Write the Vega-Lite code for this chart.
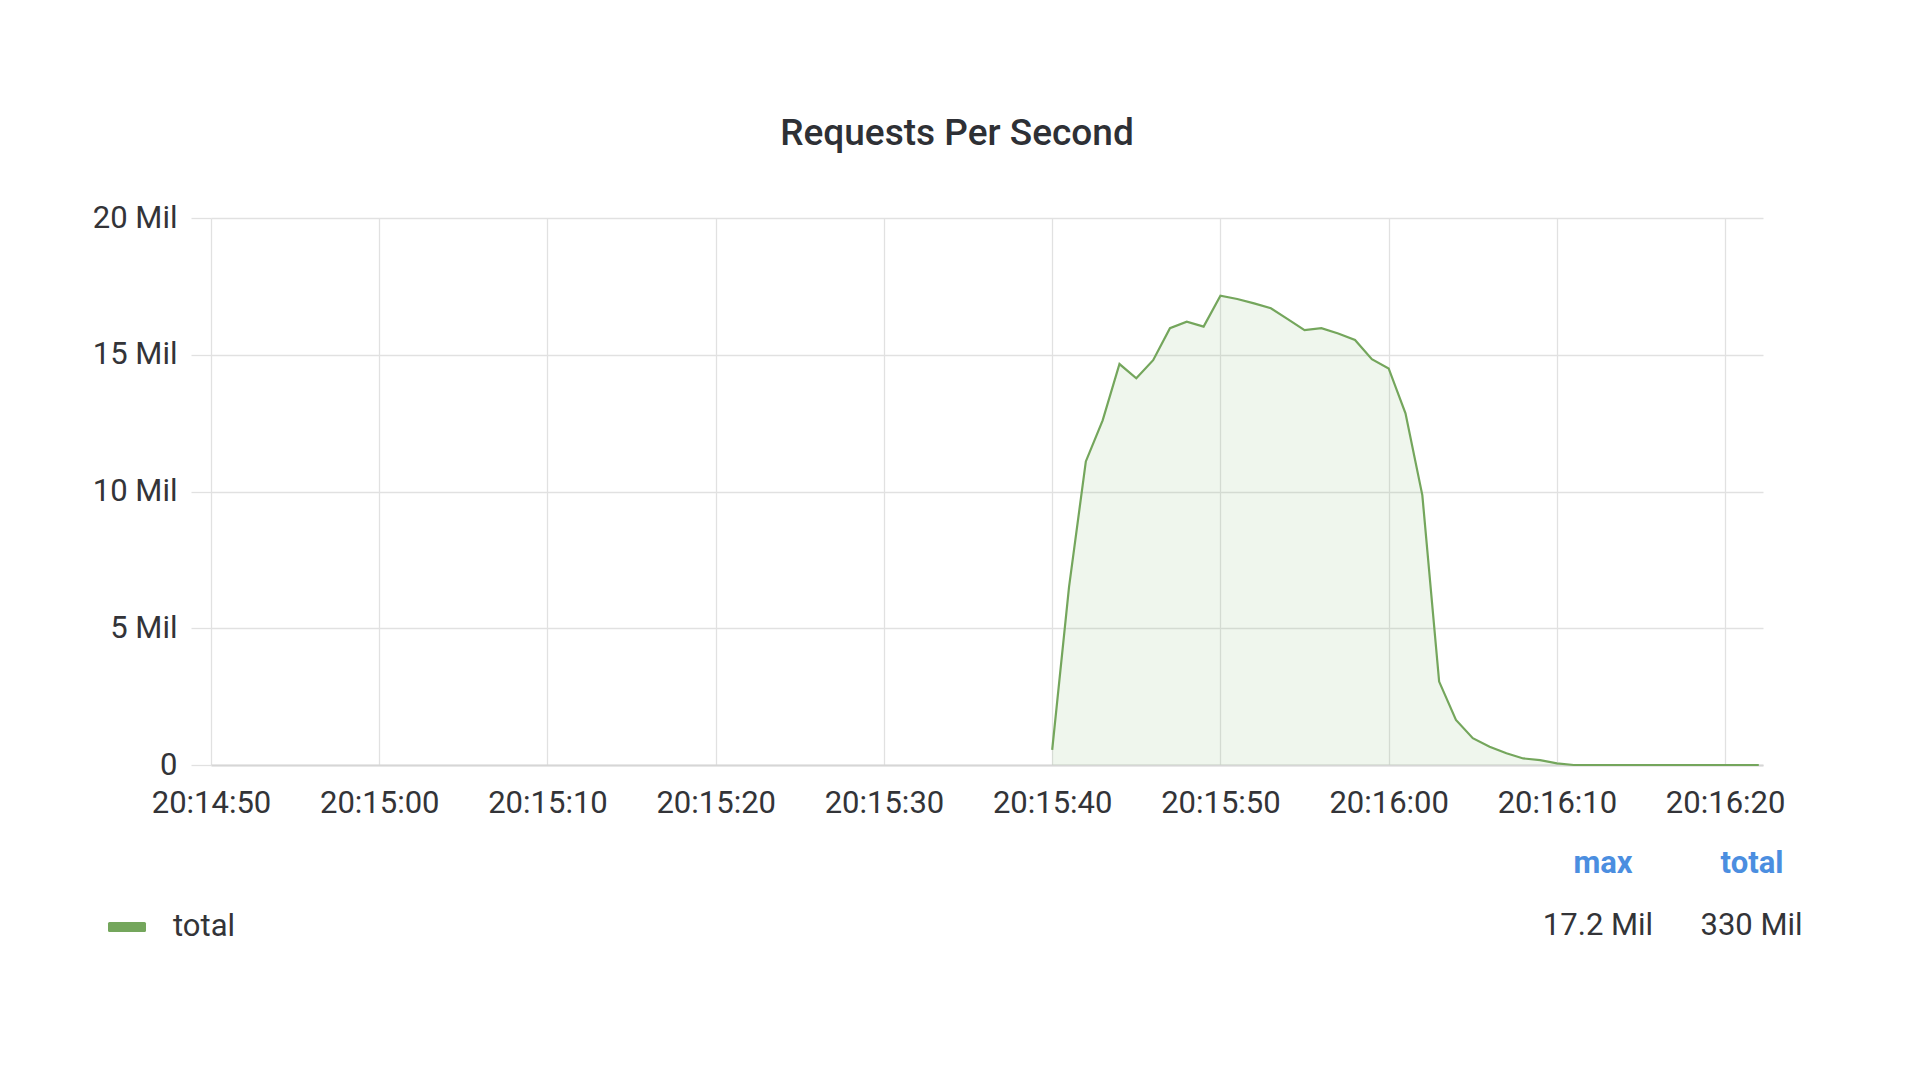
{
  "$schema": "https://vega.github.io/schema/vega-lite/v6.json",
  "width": 1552,
  "height": 547,
  "autosize": {"type": "none"},
  "padding": {"left": 211, "top": 218, "right": 157, "bottom": 315},
  "background": "white",
  "title": {
    "text": "Requests Per Second",
    "anchor": "middle",
    "frame": "group",
    "dx": -30,
    "font": "Roboto",
    "fontSize": 37,
    "fontWeight": 500,
    "color": "#2e3035",
    "baseline": "alphabetic",
    "offset": 20
  },
  "config": {"view": {"stroke": null}, "font": "Roboto"},
  "datasets": {
    "series": [
      {"time": "2023-01-01T20:15:40", "value": 550000, "series": "total"},
      {"time": "2023-01-01T20:15:41", "value": 6500000, "series": "total"},
      {"time": "2023-01-01T20:15:42", "value": 11100000, "series": "total"},
      {"time": "2023-01-01T20:15:43", "value": 12600000, "series": "total"},
      {"time": "2023-01-01T20:15:44", "value": 14660000, "series": "total"},
      {"time": "2023-01-01T20:15:45", "value": 14140000, "series": "total"},
      {"time": "2023-01-01T20:15:46", "value": 14800000, "series": "total"},
      {"time": "2023-01-01T20:15:47", "value": 15970000, "series": "total"},
      {"time": "2023-01-01T20:15:48", "value": 16210000, "series": "total"},
      {"time": "2023-01-01T20:15:49", "value": 16030000, "series": "total"},
      {"time": "2023-01-01T20:15:50", "value": 17160000, "series": "total"},
      {"time": "2023-01-01T20:15:51", "value": 17040000, "series": "total"},
      {"time": "2023-01-01T20:15:52", "value": 16880000, "series": "total"},
      {"time": "2023-01-01T20:15:53", "value": 16700000, "series": "total"},
      {"time": "2023-01-01T20:15:54", "value": 16300000, "series": "total"},
      {"time": "2023-01-01T20:15:55", "value": 15900000, "series": "total"},
      {"time": "2023-01-01T20:15:56", "value": 15970000, "series": "total"},
      {"time": "2023-01-01T20:15:57", "value": 15780000, "series": "total"},
      {"time": "2023-01-01T20:15:58", "value": 15540000, "series": "total"},
      {"time": "2023-01-01T20:15:59", "value": 14840000, "series": "total"},
      {"time": "2023-01-01T20:16:00", "value": 14500000, "series": "total"},
      {"time": "2023-01-01T20:16:01", "value": 12860000, "series": "total"},
      {"time": "2023-01-01T20:16:02", "value": 9870000, "series": "total"},
      {"time": "2023-01-01T20:16:03", "value": 3050000, "series": "total"},
      {"time": "2023-01-01T20:16:04", "value": 1650000, "series": "total"},
      {"time": "2023-01-01T20:16:05", "value": 980000, "series": "total"},
      {"time": "2023-01-01T20:16:06", "value": 670000, "series": "total"},
      {"time": "2023-01-01T20:16:07", "value": 430000, "series": "total"},
      {"time": "2023-01-01T20:16:08", "value": 240000, "series": "total"},
      {"time": "2023-01-01T20:16:09", "value": 180000, "series": "total"},
      {"time": "2023-01-01T20:16:10", "value": 60000, "series": "total"},
      {"time": "2023-01-01T20:16:11", "value": 0, "series": "total"},
      {"time": "2023-01-01T20:16:12", "value": 0, "series": "total"},
      {"time": "2023-01-01T20:16:13", "value": 0, "series": "total"},
      {"time": "2023-01-01T20:16:14", "value": 0, "series": "total"},
      {"time": "2023-01-01T20:16:15", "value": 0, "series": "total"},
      {"time": "2023-01-01T20:16:16", "value": 0, "series": "total"},
      {"time": "2023-01-01T20:16:17", "value": 0, "series": "total"},
      {"time": "2023-01-01T20:16:18", "value": 0, "series": "total"},
      {"time": "2023-01-01T20:16:19", "value": 0, "series": "total"},
      {"time": "2023-01-01T20:16:20", "value": 0, "series": "total"},
      {"time": "2023-01-01T20:16:21", "value": 0, "series": "total"},
      {"time": "2023-01-01T20:16:22", "value": 0, "series": "total"}
    ],
    "stats": [
      {"stat": "max", "row": "header", "text": "max"},
      {"stat": "total", "row": "header", "text": "total"},
      {"stat": "max", "row": "value", "text": "17.2 Mil"},
      {"stat": "total", "row": "value", "text": "330 Mil"}
    ]
  },
  "layer": [
    {
      "data": {"name": "series"},
      "layer": [
        {
          "mark": {"type": "area", "color": "#7EB26D", "opacity": 0.12},
          "encoding": {
            "x": {
              "field": "time",
              "type": "temporal",
              "scale": {
                "domain": [
                  {"year": 2023, "month": 1, "date": 1, "hours": 20, "minutes": 14, "seconds": 50},
                  {"year": 2023, "month": 1, "date": 1, "hours": 20, "minutes": 16, "seconds": 22, "milliseconds": 250}
                ]
              },
              "axis": {
                "title": null,
                "values": [
                  {"year": 2023, "month": 1, "date": 1, "hours": 20, "minutes": 14, "seconds": 50},
                  {"year": 2023, "month": 1, "date": 1, "hours": 20, "minutes": 15, "seconds": 0},
                  {"year": 2023, "month": 1, "date": 1, "hours": 20, "minutes": 15, "seconds": 10},
                  {"year": 2023, "month": 1, "date": 1, "hours": 20, "minutes": 15, "seconds": 20},
                  {"year": 2023, "month": 1, "date": 1, "hours": 20, "minutes": 15, "seconds": 30},
                  {"year": 2023, "month": 1, "date": 1, "hours": 20, "minutes": 15, "seconds": 40},
                  {"year": 2023, "month": 1, "date": 1, "hours": 20, "minutes": 15, "seconds": 50},
                  {"year": 2023, "month": 1, "date": 1, "hours": 20, "minutes": 16, "seconds": 0},
                  {"year": 2023, "month": 1, "date": 1, "hours": 20, "minutes": 16, "seconds": 10},
                  {"year": 2023, "month": 1, "date": 1, "hours": 20, "minutes": 16, "seconds": 20}
                ],
                "format": "%H:%M:%S",
                "ticks": false,
                "labelPadding": 23,
                "labelFlush": false,
                "labelOverlap": false,
                "labelBound": false,
                "labelFont": "Roboto",
                "labelFontSize": 31,
                "labelColor": "#333438",
                "domain": true,
                "domainColor": "#d6d6d6",
                "domainWidth": 2,
                "grid": true,
                "gridColor": "#e1e1e1",
                "gridWidth": 1.3
              }
            },
            "y": {
              "field": "value",
              "type": "quantitative",
              "scale": {"domain": [0, 20000000], "nice": false},
              "axis": {
                "title": null,
                "values": [0, 5000000, 10000000, 15000000, 20000000],
                "labelExpr": "datum.value == 0 ? '0' : format(datum.value / 1000000, 'd') + ' Mil'",
                "tickSize": 20,
                "tickColor": "#e1e1e1",
                "tickWidth": 1.3,
                "labelPadding": 14,
                "labelFont": "Roboto",
                "labelFontSize": 31,
                "labelColor": "#333438",
                "domain": false,
                "grid": true,
                "gridColor": "#e1e1e1",
                "gridWidth": 1.3
              }
            }
          }
        },
        {
          "mark": {"type": "line", "strokeWidth": 2.2},
          "encoding": {
            "x": {"field": "time", "type": "temporal"},
            "y": {"field": "value", "type": "quantitative"},
            "color": {
              "field": "series",
              "type": "nominal",
              "scale": {"range": ["#74a65c"]},
              "legend": {
                "title": null,
                "orient": "none",
                "legendX": -103,
                "legendY": 690,
                "symbolType": "M-0.92,-0.26 L0.92,-0.26 Q1,-0.26 1,-0.18 L1,0.18 Q1,0.26 0.92,0.26 L-0.92,0.26 Q-1,0.26 -1,0.18 L-1,-0.18 Q-1,-0.26 -0.92,-0.26 Z",
                "symbolSize": 1444,
                "symbolFillColor": "#74a65c",
                "symbolStrokeWidth": 0,
                "symbolOpacity": 1,
                "labelFont": "Roboto",
                "labelFontSize": 31,
                "labelColor": "#333438",
                "labelOffset": 27,
                "padding": 0,
                "encode": {
                  "symbols": {
                    "update": {
                      "fill": {"value": "#74a65c"},
                      "stroke": {"value": "#74a65c"},
                      "strokeWidth": {"value": 0},
                      "opacity": {"value": 1}
                    }
                  }
                }
              }
            }
          }
        }
      ]
    },
    {
      "data": {"name": "stats"},
      "transform": [{"filter": "datum.row == 'header'"}],
      "mark": {"type": "text", "font": "Roboto", "fontSize": 31, "fontWeight": "bold", "color": "#4b8ee0", "align": "center", "baseline": "middle"},
      "encoding": {
        "x": {"field": "stat", "type": "nominal", "scale": {"domain": ["max", "total"], "range": [1392, 1541], "padding": 0}, "axis": null},
        "y": {"field": "row", "type": "nominal", "scale": {"domain": ["header", "value"], "range": [646, 708], "padding": 0}, "axis": null},
        "text": {"field": "text"}
      }
    },
    {
      "data": {"name": "stats"},
      "transform": [{"filter": "datum.row == 'value'"}],
      "mark": {"type": "text", "font": "Roboto", "fontSize": 31, "color": "#333438", "align": "center", "baseline": "middle"},
      "encoding": {
        "x": {"field": "stat", "type": "nominal", "scale": {"domain": ["max", "total"], "range": [1387, 1540.5], "padding": 0}, "axis": null},
        "y": {"field": "row", "type": "nominal", "scale": {"domain": ["header", "value"], "range": [646, 708], "padding": 0}, "axis": null},
        "text": {"field": "text"}
      }
    }
  ],
  "resolve": {
    "scale": {"x": "independent", "y": "independent"},
    "axis": {"x": "independent", "y": "independent"}
  }
}
